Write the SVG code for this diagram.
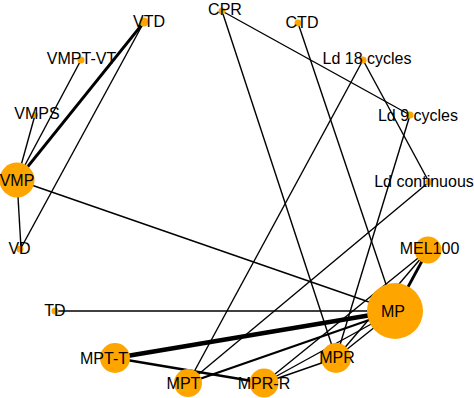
<svg xmlns="http://www.w3.org/2000/svg" width="474" height="398" viewBox="0 0 474 398">
<style>
.e{stroke:#000;stroke-width:1.4;fill:none}
.m{stroke-width:2.3}
.t{stroke-width:2.8}
.x{stroke-width:4.5}
.n{fill:#FFA500}
text{font-family:"Liberation Sans",Arial,sans-serif;font-size:16px;fill:#000;text-anchor:middle;dominant-baseline:central}
</style>
<rect width="474" height="398" fill="#fff"/>
<g id="connectors">
<line class="e" x1="17" y1="180" x2="35" y2="115"/>
<line class="e" x1="17" y1="180" x2="81" y2="60"/>
<line class="e t" x1="17" y1="180" x2="144" y2="22"/>
<line class="e" x1="17" y1="180" x2="21" y2="248"/>
<line class="e" x1="17" y1="180" x2="395" y2="311"/>
<line class="e" x1="144" y1="22" x2="21" y2="248"/>
<line class="e" x1="222" y1="11" x2="410" y2="115"/>
<line class="e" x1="222" y1="11" x2="336" y2="358"/>
<line class="e" x1="298" y1="23" x2="395" y2="311"/>
<line class="e" x1="363" y1="60" x2="429" y2="182"/>
<line class="e" x1="363" y1="60" x2="188" y2="383"/>
<line class="e" x1="410" y1="115" x2="336" y2="358"/>
<line class="e" x1="429" y1="182" x2="188" y2="383"/>
<line class="e" x1="55" y1="311" x2="395" y2="311"/>
<line class="e x" x1="115" y1="358" x2="395" y2="311"/>
<line class="e m" x1="115" y1="358" x2="264" y2="383"/>
<line class="e m" x1="188" y1="383" x2="395" y2="311"/>
<line class="e t" x1="428" y1="250" x2="395" y2="311"/>
<line class="e" x1="428" y1="250" x2="336" y2="358"/>
<line class="e" x1="428" y1="250" x2="264" y2="383"/>
<line class="e" x1="336" y1="358" x2="395" y2="311"/>
<line class="e" x1="264" y1="383" x2="395" y2="311"/>
<line class="e" x1="264" y1="383" x2="336" y2="358"/>
</g>
<g id="node-VTD"><circle class="n" cx="144" cy="22" r="4.5"/><text x="149" y="21">VTD</text></g>
<g id="node-CPR"><circle class="n" cx="222" cy="11" r="3.5"/><text x="225" y="9">CPR</text></g>
<g id="node-CTD"><circle class="n" cx="298" cy="23" r="3.5"/><text x="302" y="22">CTD</text></g>
<g id="node-Ld18"><circle class="n" cx="363" cy="60" r="3.5"/><text x="367" y="58">Ld 18 cycles</text></g>
<g id="node-Ld9"><circle class="n" cx="410" cy="115" r="3.5"/><text x="418" y="115">Ld 9 cycles</text></g>
<g id="node-Ldcont"><circle class="n" cx="429" cy="182" r="3.5"/><text x="424" y="181">Ld continuous</text></g>
<g id="node-VMPT-VT"><circle class="n" cx="81" cy="60" r="3.5"/><text x="81.5" y="58">VMPT-VT</text></g>
<g id="node-VMPS"><circle class="n" cx="35" cy="115" r="3"/><text x="37" y="113">VMPS</text></g>
<g id="node-VMP"><circle class="n" cx="17" cy="180" r="17.5"/><text x="17" y="180">VMP</text></g>
<g id="node-VD"><circle class="n" cx="20" cy="249" r="3.5"/><text x="19.5" y="248">VD</text></g>
<g id="node-TD"><circle class="n" cx="55" cy="311" r="3.5"/><text x="55" y="310">TD</text></g>
<g id="node-MPT-T"><circle class="n" cx="115" cy="358" r="15"/><text x="104" y="358">MPT-T</text></g>
<g id="node-MPT"><circle class="n" cx="188" cy="383" r="14"/><text x="183.5" y="383">MPT</text></g>
<g id="node-MPR-R"><circle class="n" cx="264" cy="383" r="14.5"/><text x="264" y="383">MPR-R</text></g>
<g id="node-MPR"><circle class="n" cx="336" cy="358" r="15"/><text x="337" y="357">MPR</text></g>
<g id="node-MP"><circle class="n" cx="395" cy="311" r="28"/><text x="393" y="311">MP</text></g>
<g id="node-MEL100"><circle class="n" cx="428" cy="250" r="13.5"/><text x="429.5" y="248">MEL100</text></g>
</svg>
